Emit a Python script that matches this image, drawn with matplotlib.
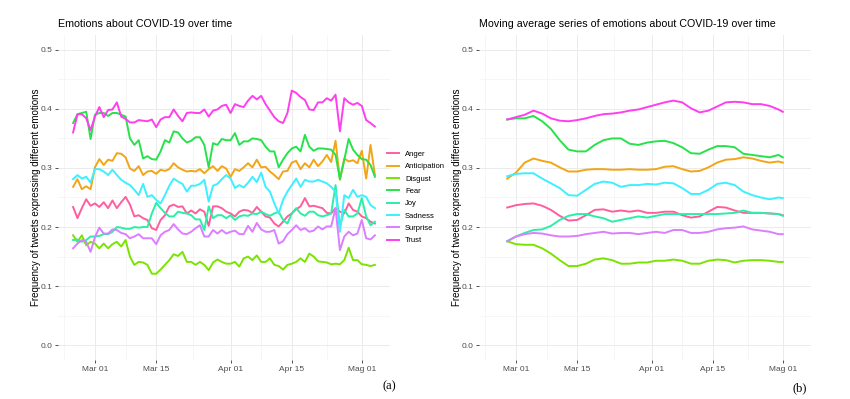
import pandas as pd
import matplotlib
matplotlib.use("Agg")
import matplotlib.pyplot as plt
import matplotlib.dates as mdates

# daily series, 25 Feb -> 4 May 2020
dates_daily = pd.date_range("2020-02-25", "2020-05-04", freq="D")

emotions = ["Anger", "Anticipation", "Disgust", "Fear", "Joy", "Sadness", "Surprise", "Trust"]
colors = ["#FF5E9E", "#F2A516", "#7BE300", "#27E24B", "#2AEFA6", "#3DEFFF", "#DB7EFF", "#FF3EF0"]

anger = [0.234, 0.215, 0.232, 0.247, 0.236,
         0.240, 0.234, 0.242, 0.232, 0.245, 0.232, 0.242, 0.251, 0.238, 0.218,
         0.220, 0.215, 0.212, 0.198, 0.195, 0.212, 0.220, 0.235, 0.238, 0.234,
         0.235, 0.223, 0.228, 0.223, 0.230, 0.226, 0.202, 0.235, 0.235, 0.232,
         0.226, 0.223, 0.218, 0.226, 0.229, 0.228, 0.224, 0.234, 0.226, 0.218,
         0.216, 0.206, 0.201, 0.209, 0.218, 0.223, 0.230, 0.235, 0.249, 0.235,
         0.236, 0.234, 0.232, 0.224, 0.223, 0.232, 0.226, 0.223, 0.240, 0.229,
         0.226, 0.218, 0.215, 0.209, 0.206]
anticipation = [0.268, 0.281, 0.264, 0.269, 0.264,
                0.301, 0.315, 0.305, 0.314, 0.312, 0.325, 0.324, 0.318, 0.299, 0.295,
                0.303, 0.288, 0.294, 0.295, 0.290, 0.297, 0.295, 0.298, 0.308, 0.301,
                0.297, 0.294, 0.295, 0.294, 0.298, 0.291, 0.298, 0.303, 0.295, 0.303,
                0.299, 0.285, 0.298, 0.295, 0.301, 0.308, 0.301, 0.314, 0.301, 0.302,
                0.294, 0.288, 0.281, 0.294, 0.295, 0.309, 0.312, 0.298, 0.308, 0.301,
                0.314, 0.303, 0.311, 0.322, 0.310, 0.346, 0.280, 0.316, 0.311, 0.313,
                0.308, 0.329, 0.282, 0.339, 0.288]
disgust = [0.186, 0.175, 0.186, 0.169, 0.175,
           0.172, 0.164, 0.172, 0.164, 0.171, 0.175, 0.167, 0.178, 0.150, 0.136,
           0.141, 0.140, 0.136, 0.121, 0.121, 0.128, 0.136, 0.144, 0.154, 0.151,
           0.158, 0.141, 0.141, 0.136, 0.141, 0.136, 0.127, 0.140, 0.145, 0.141,
           0.138, 0.138, 0.141, 0.133, 0.147, 0.150, 0.144, 0.152, 0.141, 0.141,
           0.147, 0.136, 0.134, 0.128, 0.136, 0.138, 0.141, 0.147, 0.141, 0.155,
           0.150, 0.142, 0.141, 0.140, 0.137, 0.138, 0.137, 0.144, 0.165, 0.144,
           0.144, 0.137, 0.136, 0.134, 0.136]
fear = [0.376, 0.391, 0.393, 0.395, 0.349,
        0.390, 0.393, 0.393, 0.388, 0.393, 0.393, 0.390, 0.387, 0.350, 0.339,
        0.347, 0.316, 0.320, 0.315, 0.314, 0.328, 0.347, 0.343, 0.362, 0.360,
        0.350, 0.343, 0.346, 0.352, 0.352, 0.339, 0.301, 0.342, 0.339, 0.349,
        0.347, 0.347, 0.359, 0.339, 0.345, 0.345, 0.350, 0.349, 0.347, 0.336,
        0.328, 0.328, 0.301, 0.314, 0.325, 0.333, 0.336, 0.328, 0.356, 0.336,
        0.329, 0.333, 0.333, 0.332, 0.331, 0.322, 0.281, 0.314, 0.349, 0.331,
        0.322, 0.315, 0.314, 0.305, 0.285]
joy = [0.178, 0.179, 0.175, 0.178, 0.184,
       0.184, 0.185, 0.188, 0.188, 0.192, 0.200, 0.199, 0.197, 0.197, 0.200,
       0.199, 0.200, 0.200, 0.223, 0.241, 0.232, 0.224, 0.218, 0.218, 0.226,
       0.224, 0.223, 0.220, 0.213, 0.213, 0.195, 0.235, 0.215, 0.220, 0.220,
       0.215, 0.220, 0.212, 0.218, 0.220, 0.219, 0.223, 0.222, 0.226, 0.222,
       0.219, 0.223, 0.226, 0.212, 0.206, 0.223, 0.232, 0.223, 0.219, 0.226,
       0.226, 0.220, 0.218, 0.220, 0.223, 0.271, 0.200, 0.229, 0.218, 0.218,
       0.223, 0.249, 0.218, 0.203, 0.209]
sadness = [0.281, 0.288, 0.282, 0.285, 0.275,
           0.298, 0.298, 0.294, 0.288, 0.297, 0.288, 0.280, 0.275, 0.271, 0.263,
           0.254, 0.273, 0.251, 0.254, 0.246, 0.240, 0.254, 0.270, 0.282, 0.277,
           0.273, 0.260, 0.270, 0.270, 0.273, 0.280, 0.243, 0.270, 0.273, 0.281,
           0.288, 0.282, 0.266, 0.271, 0.267, 0.275, 0.285, 0.276, 0.292, 0.268,
           0.260, 0.240, 0.223, 0.246, 0.260, 0.271, 0.282, 0.268, 0.280, 0.277,
           0.277, 0.280, 0.277, 0.274, 0.268, 0.260, 0.192, 0.254, 0.249, 0.263,
           0.251, 0.254, 0.251, 0.237, 0.232]
surprise = [0.164, 0.172, 0.178, 0.175, 0.158,
            0.183, 0.199, 0.189, 0.189, 0.196, 0.195, 0.190, 0.188, 0.181, 0.184,
            0.188, 0.181, 0.181, 0.181, 0.171, 0.186, 0.192, 0.195, 0.205, 0.196,
            0.189, 0.188, 0.192, 0.198, 0.203, 0.184, 0.184, 0.195, 0.189, 0.195,
            0.189, 0.192, 0.194, 0.188, 0.188, 0.202, 0.192, 0.207, 0.196, 0.192,
            0.192, 0.195, 0.172, 0.176, 0.188, 0.195, 0.203, 0.195, 0.198, 0.192,
            0.194, 0.201, 0.196, 0.201, 0.201, 0.232, 0.161, 0.184, 0.192, 0.186,
            0.189, 0.212, 0.181, 0.179, 0.186]
trust = [0.360, 0.391, 0.391, 0.384, 0.364,
         0.387, 0.403, 0.386, 0.398, 0.399, 0.411, 0.387, 0.383, 0.377, 0.377,
         0.381, 0.380, 0.379, 0.382, 0.369, 0.382, 0.386, 0.386, 0.399, 0.388,
         0.379, 0.393, 0.394, 0.393, 0.393, 0.399, 0.387, 0.397, 0.399, 0.405,
         0.407, 0.393, 0.408, 0.405, 0.403, 0.414, 0.422, 0.416, 0.422, 0.408,
         0.397, 0.386, 0.379, 0.376, 0.393, 0.431, 0.427, 0.420, 0.415, 0.399,
         0.398, 0.411, 0.411, 0.418, 0.414, 0.424, 0.362, 0.418, 0.411, 0.407,
         0.410, 0.405, 0.381, 0.376, 0.370]

# moving average series, read every 2 days from 28 Feb to 1 May
ma_days = list(range(-2, 61, 2)) + [61]
dates_ma = pd.Timestamp("2020-03-01") + pd.to_timedelta(ma_days, unit="D")

ma_anger = [0.233, 0.237, 0.239, 0.240, 0.236, 0.229, 0.219, 0.211, 0.212, 0.220, 0.229,
            0.230, 0.226, 0.228, 0.226, 0.228, 0.224, 0.224, 0.226, 0.226, 0.220, 0.216,
            0.218, 0.226, 0.234, 0.233, 0.228, 0.224, 0.224, 0.224, 0.223, 0.222, 0.220]
ma_anticipation = [0.282, 0.292, 0.309, 0.316, 0.312, 0.309, 0.301, 0.294, 0.294, 0.297, 0.298,
                   0.298, 0.297, 0.297, 0.298, 0.297, 0.297, 0.298, 0.302, 0.303, 0.298, 0.294,
                   0.295, 0.301, 0.309, 0.314, 0.315, 0.318, 0.316, 0.312, 0.309, 0.311, 0.309]
ma_disgust = [0.176, 0.171, 0.170, 0.170, 0.164, 0.155, 0.144, 0.134, 0.134, 0.138, 0.145,
              0.147, 0.144, 0.138, 0.138, 0.140, 0.140, 0.143, 0.143, 0.145, 0.143, 0.138,
              0.138, 0.143, 0.145, 0.144, 0.140, 0.143, 0.144, 0.144, 0.143, 0.141, 0.141]
ma_fear = [0.382, 0.384, 0.384, 0.388, 0.379, 0.366, 0.347, 0.331, 0.328, 0.328, 0.339,
           0.347, 0.350, 0.350, 0.341, 0.339, 0.343, 0.345, 0.346, 0.342, 0.335, 0.325,
           0.324, 0.331, 0.337, 0.337, 0.335, 0.324, 0.322, 0.320, 0.318, 0.322, 0.318]
ma_joy = [0.176, 0.184, 0.190, 0.195, 0.196, 0.202, 0.212, 0.219, 0.222, 0.222, 0.218,
          0.215, 0.209, 0.212, 0.215, 0.218, 0.216, 0.219, 0.222, 0.222, 0.222, 0.222,
          0.222, 0.222, 0.222, 0.223, 0.224, 0.228, 0.224, 0.224, 0.223, 0.222, 0.219]
ma_sadness = [0.286, 0.290, 0.291, 0.291, 0.282, 0.274, 0.266, 0.254, 0.253, 0.263, 0.273,
              0.277, 0.275, 0.268, 0.271, 0.271, 0.273, 0.272, 0.275, 0.274, 0.266, 0.256,
              0.256, 0.263, 0.273, 0.275, 0.271, 0.260, 0.254, 0.250, 0.247, 0.250, 0.249]
ma_surprise = [0.176, 0.184, 0.188, 0.190, 0.189, 0.186, 0.184, 0.184, 0.185, 0.188, 0.190,
               0.192, 0.189, 0.190, 0.190, 0.188, 0.190, 0.192, 0.190, 0.195, 0.195, 0.190,
               0.190, 0.192, 0.196, 0.198, 0.199, 0.201, 0.196, 0.194, 0.192, 0.188, 0.188]
ma_trust = [0.382, 0.386, 0.390, 0.397, 0.392, 0.384, 0.380, 0.379, 0.381, 0.384, 0.388,
            0.391, 0.392, 0.394, 0.397, 0.399, 0.403, 0.407, 0.411, 0.414, 0.411, 0.401,
            0.394, 0.397, 0.404, 0.411, 0.412, 0.411, 0.408, 0.408, 0.405, 0.399, 0.395]

daily = [anger, anticipation, disgust, fear, joy, sadness, surprise, trust]
moving = [ma_anger, ma_anticipation, ma_disgust, ma_fear, ma_joy, ma_sadness, ma_surprise, ma_trust]

tick_dates = pd.to_datetime(["2020-03-01", "2020-03-15", "2020-04-01", "2020-04-15", "2020-05-01"])
tick_labels = ["Mar 01", "Mar 15", "Apr 01", "Apr 15", "Mag 01"]

plt.rcParams["font.family"] = ["Liberation Sans", "DejaVu Sans"]

fig = plt.figure(figsize=(8.5, 3.99), dpi=100)
W, H = 850, 399
ax1 = fig.add_axes([58 / W, 1 - 360 / H, 332 / W, 325 / H])
ax2 = fig.add_axes([479 / W, 1 - 360 / H, 332 / W, 325 / H])

# ggplot-like expansion of the date range (5 % each side)
span = (dates_daily[-1] - dates_daily[0]) * 0.05
xlo, xhi = dates_daily[0] - span, dates_daily[-1] + span

major = mdates.date2num(tick_dates)
minor = [major[0] - (major[1] - major[0]) / 2]
minor += [(a + b) / 2 for a, b in zip(major[:-1], major[1:])]

for ax in (ax1, ax2):
    for s in ax.spines.values():
        s.set_visible(False)
    ax.set_xlim(xlo, xhi)
    ax.set_ylim(-0.025, 0.525)
    ax.set_xticks(major)
    ax.set_xticklabels(tick_labels)
    ax.set_xticks(minor, minor=True)
    ax.set_yticks([0.0, 0.1, 0.2, 0.3, 0.4, 0.5])
    ax.set_yticklabels(["0.0", "0.1", "0.2", "0.3", "0.4", "0.5"])
    ax.set_yticks([0.05, 0.15, 0.25, 0.35, 0.45], minor=True)
    ax.grid(which="major", color="#EBEBEB", lw=0.7)
    ax.grid(which="minor", color="#F3F3F3", lw=0.5)
    ax.set_axisbelow(True)
    ax.tick_params(which="major", length=2, width=0.6, color="#333333",
                   labelsize=6, labelcolor="#4D4D4D", pad=2)
    ax.tick_params(which="minor", length=0)
    ax.set_ylabel("Frequency of tweets expressing different emotions", fontsize=7)
    ax.yaxis.set_label_coords(-0.05, 0.5)

for name, col, vals in zip(emotions, colors, daily):
    ax1.plot(dates_daily, vals, color=col, lw=1.4, label=name)
for col, vals in zip(colors, moving):
    ax2.plot(dates_ma, vals, color=col, lw=1.4)

ax1.set_title("Emotions about COVID-19 over time", loc="left", fontsize=7.7, pad=6)
ax2.set_title("Moving average series of emotions about COVID-19 over time", loc="left",
              fontsize=7.7, pad=6)

ax1.legend(loc="upper left", bbox_to_anchor=(383 / W, 1 - 147 / H), bbox_transform=fig.transFigure,
           frameon=False, fontsize=5.5, handlelength=1.6, labelspacing=0.65, borderpad=0,
           handletextpad=0.8)

fig.text(389 / W, 1 - 386 / H, "(a)", family="Liberation Serif", fontsize=9, ha="center", va="center")
fig.text(800 / W, 1 - 388 / H, "(b)", family="Liberation Serif", fontsize=9, ha="center", va="center")

fig.savefig("out.png", dpi=100, facecolor="white")
